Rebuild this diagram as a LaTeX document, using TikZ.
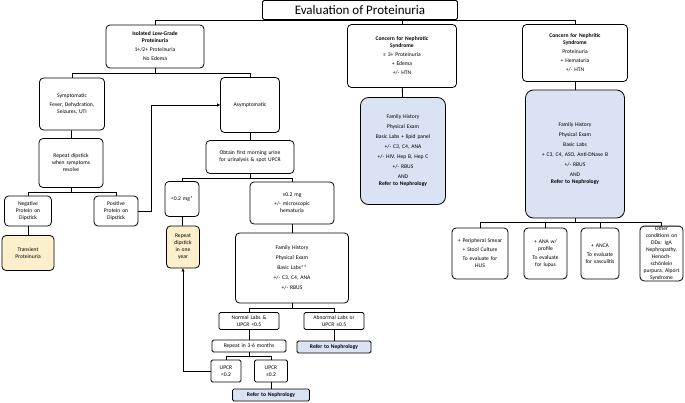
\documentclass[tikz,border=0pt]{standalone}
\usepackage{fontspec}
\setmainfont{Carlito}
\usetikzlibrary{positioning, arrows.meta}
\definecolor{tanbox}{HTML}{FCEFCB}
\definecolor{bluebox}{HTML}{DAE3F3}
\newcommand{\fs}{\fontsize{5.6}{7}\selectfont}
\tikzset{
  box/.style={draw, rounded corners=4pt, align=center, font=\fs, inner sep=1pt, line width=0.8pt},
  sq/.style={draw, rounded corners=1.5pt, align=center, font=\fs, inner sep=1pt, line width=0.8pt},
  wire/.style={line width=0.8pt},
  arr/.style={wire, -{Triangle[length=3pt,width=3pt]}}
}
\begin{document}
\begin{tikzpicture}[x=1pt, y=-1pt]
\useasboundingbox (0,0) rectangle (685,402);
% header
\node[sq, font=\fontsize{13}{14}\selectfont, minimum width=195pt, minimum height=19pt] (title) at (360,10) {Evaluation of Proteinuria};
\node[box, text width=96pt, minimum height=43pt] (iso) at (155,46.5) {\textbf{Isolated Low-Grade}\\\textbf{Proteinuria}\\[2pt]1+/2+ Proteinuria\\[2pt]No Edema};
\node[box, text width=107pt, minimum height=63pt] (rotic) at (402,56) {\textbf{Concern for Nephrotic}\\\textbf{Syndrome}\\[2pt]≥ 3+ Proteinuria\\[2pt]+ Edema\\[2pt]+/- HTN};
\node[box, text width=103pt, minimum height=57pt] (ritic) at (575,53) {\textbf{Concern for Nephritic}\\\textbf{Syndrome}\\[2pt]Proteinuria\\[2pt]+ Hematuria\\[2pt]+/- HTN};
% low-grade branch
\node[box, text width=63pt, minimum height=52pt] (sym) at (72,104) {Symptomatic\\[2pt]Fever, Dehydration,\\Seizures, UTI};
\node[box, text width=57pt, minimum height=55pt] (asym) at (250,105) {Asymptomatic};
\node[box, text width=62pt, minimum height=49pt] (rep) at (71,163) {Repeat dipstick\\when symptoms\\resolve};
\node[box, text width=86pt, minimum height=33pt] (morn) at (250,157) {Obtain first morning urine\\for urinalysis \& spot UPCR};
\node[box, text width=45pt, minimum height=30pt] (neg) at (28,211) {Negative\\Protein on\\Dipstick};
\node[box, text width=42pt, minimum height=30pt] (pos) at (116,211) {Positive\\Protein on\\Dipstick};
\node[box, text width=32pt, minimum height=35pt] (lo) at (182,199) {<0.2 mg*};
\node[box, text width=82pt, minimum height=42pt] (hi) at (292,203) {≥0.2 mg\\[2pt]+/- microscopic\\hematuria};
\node[box, fill=tanbox, text width=50pt, minimum height=35pt] (trans) at (28,253) {Transient\\Proteinuria};
\node[box, fill=tanbox, text width=31pt, minimum height=42pt] (year) at (183,247) {Repeat\\dipstick\\in one\\year};
\node[box, text width=111pt, minimum height=70pt] (fam) at (292,268) {Family History\\[3pt]Physical Exam\\[3pt]Basic Labs**\\[3pt]+/- C3, C4, ANA\\[3pt]+/- RBUS};
\node[sq, text width=58pt, minimum height=17pt] (norm) at (249,321) {Normal Labs \&\\UPCR <0.5};
\node[sq, text width=58pt, minimum height=17pt] (abn) at (334,321) {Abnormal Labs or\\UPCR ≥0.5};
\node[sq, text width=72pt, minimum height=12pt] (rep36) at (249,346) {Repeat in 3-6 months};
\node[sq, fill=bluebox, text width=72pt, minimum height=12pt] (ref1) at (334,347) {\textbf{Refer to Nephrology}};
\node[sq, text width=28pt, minimum height=22pt] (ulo) at (226,371) {UPCR\\<0.2};
\node[sq, text width=31pt, minimum height=22pt] (uhi) at (271,371) {UPCR\\≥0.2};
\node[sq, fill=bluebox, text width=75pt, minimum height=12pt] (ref2) at (271,395) {\textbf{Refer to Nephrology}};
% nephrotic / nephritic work-up
\node[box, fill=bluebox, rounded corners=8pt, text width=83pt, minimum height=107pt] (roticw) at (403,151) {Family History\\[3pt]Physical Exam\\[3pt]Basic Labs + lipid panel\\[3pt]+/- C3, C4, ANA\\[3pt]+/- HIV, Hep B, Hep C\\[3pt]+/- RBUS\\[3pt]AND\\\textbf{Refer to Nephrology}};
\node[box, fill=bluebox, rounded corners=8pt, text width=97pt, minimum height=128pt] (riticw) at (575,154) {Family History\\[3pt]Physical Exam\\[3pt]Basic Labs\\[3pt]+ C3, C4, ASO, Anti-DNase B\\[3pt]+/- RBUS\\[3pt]AND\\\textbf{Refer to Nephrology}};
\node[box, text width=54pt, minimum height=51pt] (hus) at (480,253.5) {+ Peripheral Smear\\[2pt]+ Stool Culture\\[2pt]To evaluate for\\HUS};
\node[box, text width=41pt, minimum height=51pt] (lup) at (545.5,253.5) {+ ANA w/\\profile\\[2pt]To evaluate\\for lupus};
\node[box, text width=36pt, minimum height=51pt] (vas) at (600,253.5) {+ ANCA\\[2pt]To evaluate\\for vasculitis};
\node[box, text width=42pt, minimum height=51pt, inner sep=0.5pt] (oth) at (661.5,253.5) {Other\\conditions on\\DDx: IgA\\Nephropathy,\\Henoch-\\schönlein\\purpura, Alport\\Syndrome};
% connectors
\draw[wire] (iso.north) -- ++(0,-4) -| (ritic.north);
\draw[wire] (rotic.north) -- ++(0,-4);
\draw[wire] (title.south) ++(-15,0) -- ++(0,1);
\draw[wire] (iso.south) -- ++(0,5) -| (sym.north);
\draw[wire] (iso.south) ++(0,5) -| (asym.north);
\draw[wire] (sym) -- (rep);
\draw[wire] (rep.south) -- ++(0,4) -| (neg.north);
\draw[wire] (rep.south) ++(0,4) -| (pos.north);
\draw[wire] (neg) -- (trans);
\draw[arr] (pos.east) -- ++(13,0) |- (asym.west);
\draw[wire] (asym) -- (morn);
\draw[wire] (morn.south) -- ++(0,4) -| (lo.north);
\draw[wire] (morn.south) ++(0,4) -| (hi.north);
\draw[wire] (lo) -- (year);
\draw[wire] (hi) -- (fam);
\draw[wire] (fam.south) -- ++(0,5) -| (norm.north);
\draw[wire] (fam.south) ++(0,5) -| (abn.north);
\draw[wire] (norm) -- (rep36);
\draw[wire] (abn) -- (ref1);
\draw[wire] (rep36.south) -- ++(0,4) -| (ulo.north);
\draw[wire] (rep36.south) ++(0,4) -| (uhi.north);
\draw[wire] (uhi) -- (ref2);
\draw[arr] (ulo.west) -| (year.south);
\draw[wire] (rotic) -- (roticw);
\draw[wire] (ritic) -- (riticw);
\draw[wire] (riticw.south) -- ++(0,4) -| (hus.north);
\draw[wire] (riticw.south) ++(0,4) -| (lup.north);
\draw[wire] (riticw.south) ++(0,4) -| (vas.north);
\draw[wire] (riticw.south) ++(0,4) -| (oth.north);
\end{tikzpicture}
\end{document}
